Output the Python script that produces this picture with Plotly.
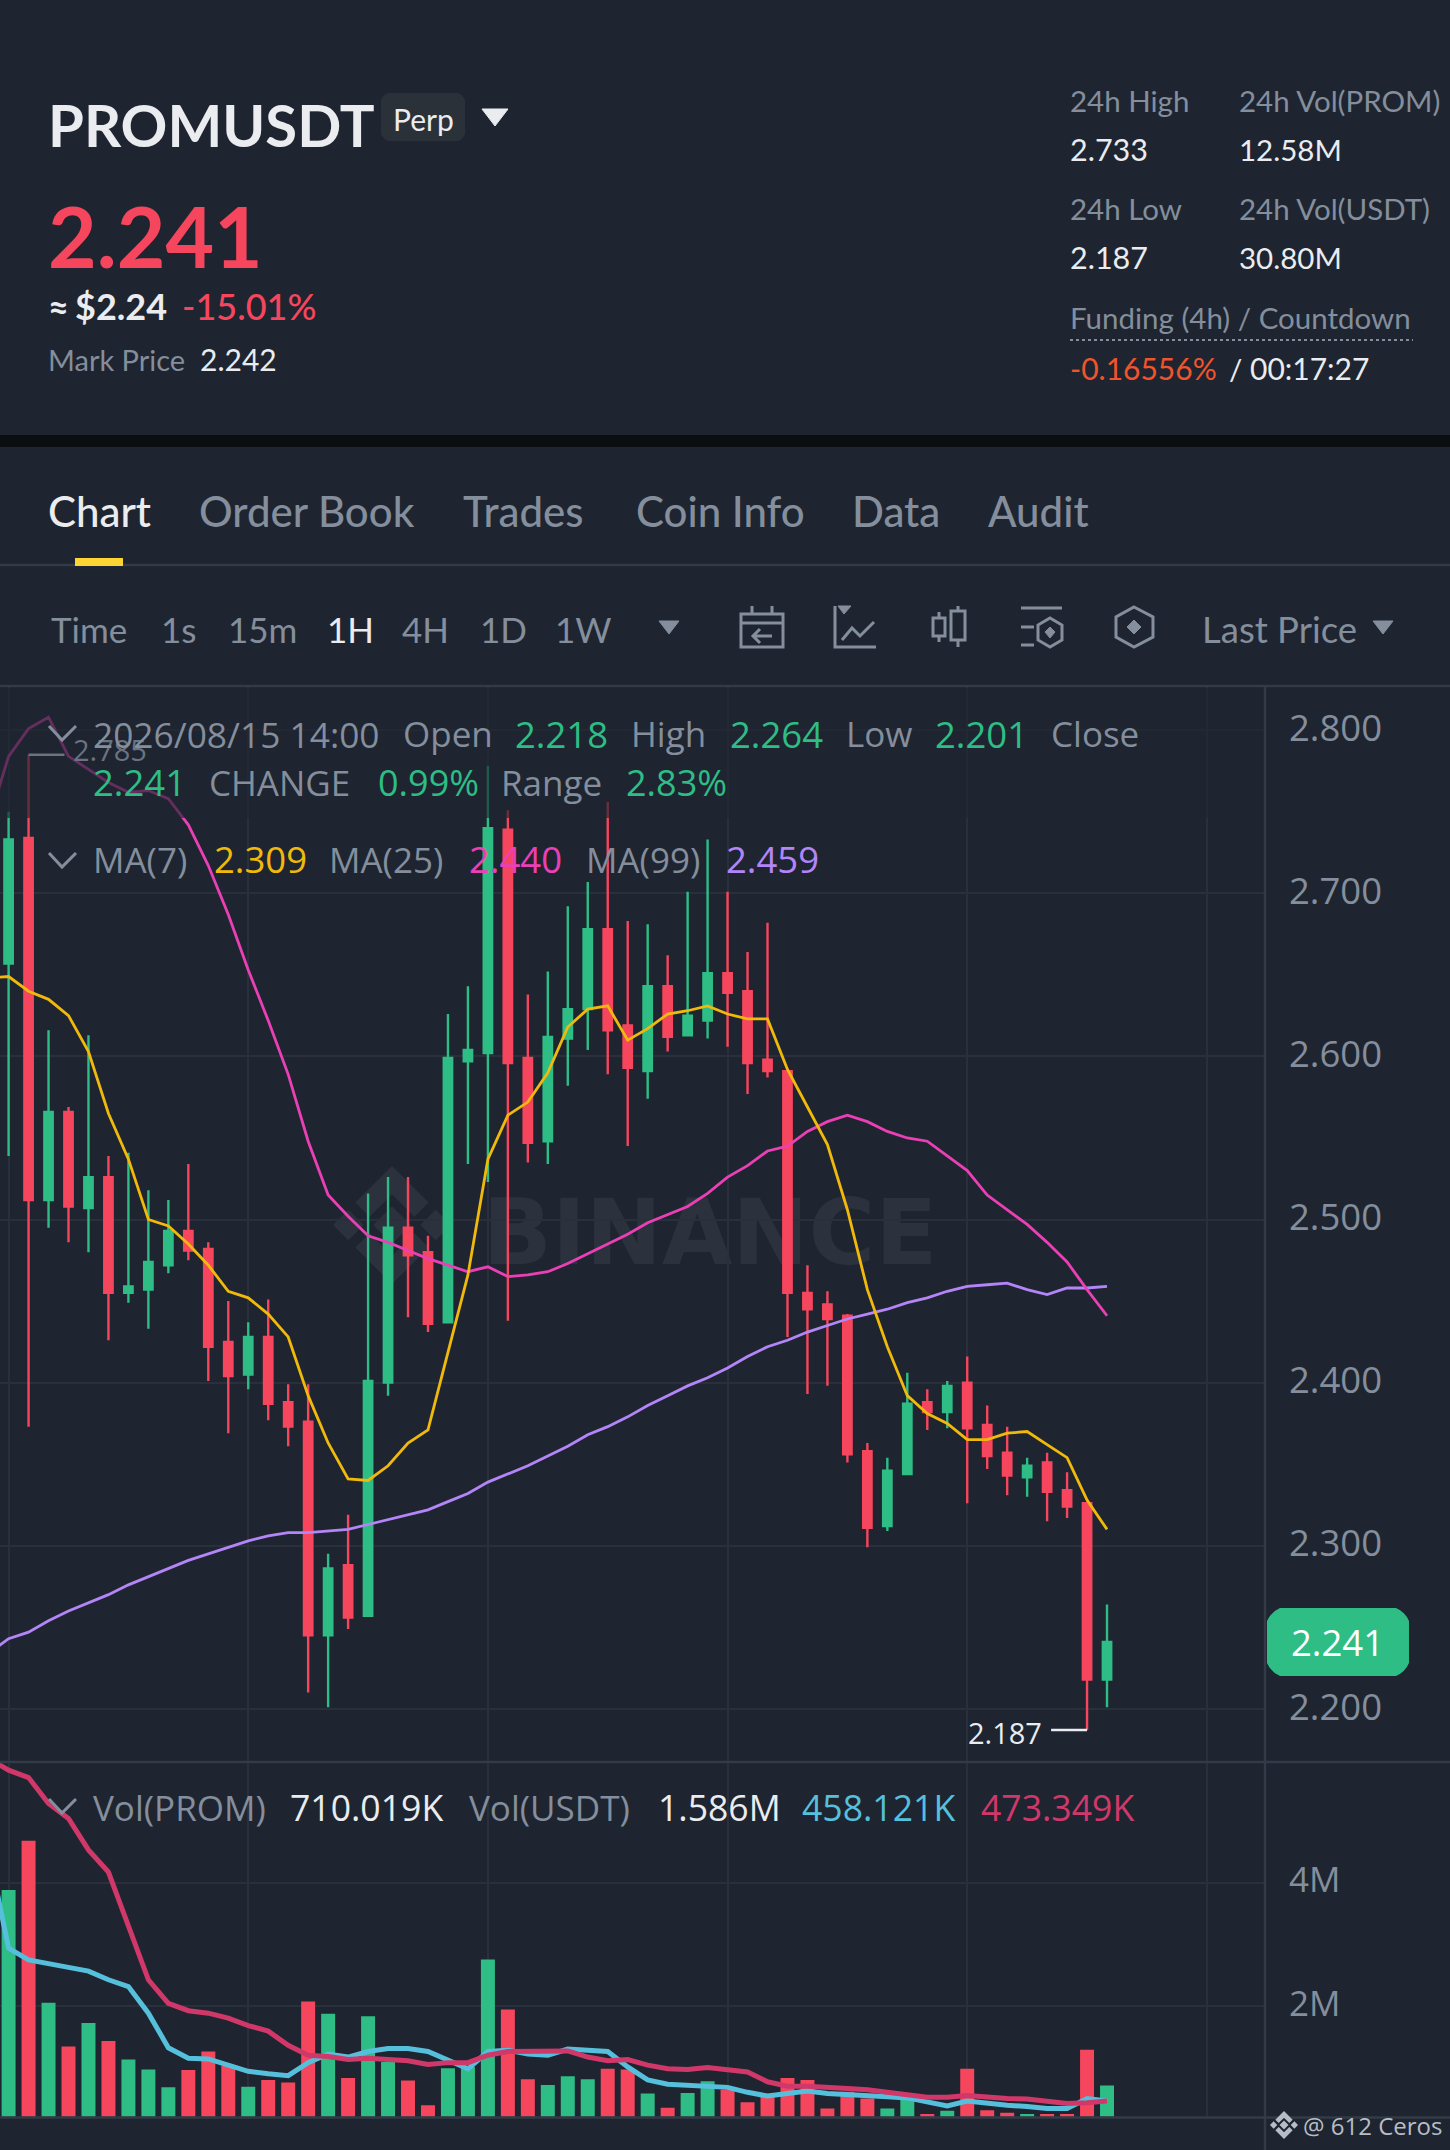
import plotly.graph_objects as go

# ---------- data ----------
candle_open = [2.657,2.734,2.512,2.566,2.507,2.526,2.455,2.457,2.472,2.493,2.482,2.425,2.405,2.428,2.388,2.376,2.245,2.288,2.257,2.400,2.495,2.480,2.437,2.597,2.602,2.739,2.599,2.548,2.611,2.629,2.678,2.619,2.591,2.643,2.613,2.622,2.651,2.640,2.598,2.591,2.455,2.448,2.441,2.358,2.312,2.344,2.388,2.382,2.400,2.374,2.357,2.342,2.351,2.334,2.326,2.218]
candle_high = [2.750,2.785,2.616,2.569,2.613,2.539,2.541,2.518,2.512,2.534,2.486,2.450,2.437,2.451,2.399,2.399,2.295,2.319,2.516,2.526,2.526,2.490,2.626,2.643,2.778,2.751,2.638,2.652,2.692,2.707,2.756,2.683,2.681,2.662,2.701,2.733,2.701,2.664,2.682,2.591,2.472,2.456,2.442,2.363,2.354,2.406,2.396,2.401,2.416,2.386,2.373,2.354,2.357,2.345,2.326,2.264]
candle_low = [2.539,2.373,2.495,2.486,2.480,2.426,2.449,2.433,2.467,2.475,2.401,2.369,2.396,2.377,2.361,2.210,2.201,2.249,2.257,2.392,2.440,2.431,2.437,2.534,2.523,2.438,2.535,2.534,2.582,2.604,2.589,2.545,2.574,2.603,2.613,2.611,2.606,2.577,2.587,2.428,2.393,2.398,2.351,2.299,2.309,2.344,2.371,2.372,2.326,2.347,2.331,2.330,2.315,2.317,2.187,2.201]
candle_close = [2.733,2.512,2.566,2.508,2.526,2.455,2.459,2.474,2.493,2.481,2.422,2.404,2.428,2.387,2.373,2.245,2.286,2.256,2.401,2.495,2.478,2.436,2.599,2.604,2.740,2.596,2.547,2.612,2.629,2.678,2.616,2.593,2.643,2.612,2.625,2.651,2.639,2.596,2.591,2.455,2.445,2.439,2.356,2.311,2.346,2.387,2.382,2.398,2.372,2.355,2.343,2.349,2.333,2.324,2.218,2.241]
volume_m = [3.88,4.68,2.06,1.35,1.73,1.44,1.14,0.98,0.69,0.97,1.27,1.04,0.70,0.81,0.77,2.08,1.88,0.84,1.84,1.10,0.80,0.40,1.00,1.02,2.76,1.95,0.82,0.73,0.87,0.82,0.99,0.98,0.59,0.36,0.60,0.79,0.65,0.45,0.54,0.84,0.81,0.35,0.62,0.51,0.35,0.59,0.26,0.31,0.99,0.32,0.28,0.26,0.26,0.26,1.30,0.72]

# moving averages begin one candle earlier, off the left edge
ma7 = [2.648,2.649,2.640,2.635,2.625,2.603,2.565,2.537,2.500,2.496,2.485,2.472,2.456,2.452,2.442,2.428,2.392,2.363,2.341,2.340,2.349,2.363,2.371,2.419,2.466,2.537,2.564,2.572,2.590,2.618,2.629,2.631,2.610,2.617,2.626,2.628,2.631,2.626,2.623,2.623,2.592,2.569,2.546,2.506,2.457,2.422,2.392,2.381,2.375,2.365,2.365,2.369,2.370,2.362,2.354,2.328,2.310]
ma25 = [2.744,2.784,2.801,2.808,2.784,2.776,2.768,2.762,2.763,2.758,2.742,2.717,2.687,2.653,2.622,2.589,2.548,2.515,2.502,2.490,2.486,2.481,2.476,2.472,2.468,2.471,2.465,2.466,2.468,2.473,2.479,2.485,2.491,2.498,2.503,2.508,2.516,2.526,2.533,2.542,2.545,2.554,2.560,2.564,2.560,2.554,2.550,2.548,2.539,2.530,2.515,2.506,2.497,2.486,2.474,2.457,2.441]
ma99 = [2.234,2.243,2.247,2.254,2.260,2.265,2.270,2.276,2.281,2.286,2.291,2.295,2.299,2.303,2.306,2.308,2.308,2.309,2.310,2.313,2.316,2.319,2.322,2.327,2.332,2.339,2.344,2.349,2.355,2.361,2.368,2.373,2.379,2.386,2.392,2.398,2.403,2.409,2.416,2.422,2.426,2.431,2.435,2.439,2.442,2.445,2.449,2.452,2.456,2.459,2.460,2.461,2.457,2.454,2.458,2.458,2.459]
vol_ma_fast = [4.51,2.94,2.75,2.70,2.63,2.57,2.43,2.32,1.89,1.33,1.16,1.15,1.05,0.95,0.91,0.88,1.09,1.23,1.18,1.27,1.32,1.32,1.27,1.12,0.99,1.27,1.29,1.23,1.21,1.31,1.28,1.27,1.02,0.81,0.74,0.72,0.71,0.69,0.61,0.55,0.59,0.63,0.59,0.58,0.56,0.54,0.52,0.46,0.39,0.47,0.43,0.40,0.38,0.35,0.35,0.51,0.47]
vol_ma_slow = [6.01,5.82,5.70,5.28,5.04,4.53,4.17,3.29,2.43,2.05,1.93,1.89,1.81,1.69,1.60,1.37,1.21,1.19,1.14,1.16,1.14,1.12,1.06,1.09,1.09,1.21,1.27,1.28,1.27,1.28,1.18,1.12,1.14,1.05,0.99,0.98,1.01,0.98,0.94,0.78,0.71,0.71,0.68,0.67,0.65,0.60,0.57,0.53,0.53,0.56,0.53,0.51,0.50,0.46,0.43,0.44,0.47]

price_ticks = [2.2, 2.3, 2.4, 2.5, 2.6, 2.7, 2.8]
volume_ticks = [2, 4]
volume_tick_labels = ["2M", "4M"]
time_ticks = [0, 12, 24, 36, 48, 60]
last_price = 2.241
high_marker = 2.785
low_marker = 2.187

# ---------- styling ----------
W, H = 1450, 2150
BG = "#1E2530"
GRID = "#2A303B"
SEP = "#333B47"
GRAY = "#848E9C"
WHITE = "#EAECEF"
GREEN = "#2EBD85"
RED = "#F6465D"
HEAD = "Lato"
CHART = "Open Sans"

def fx(x): return x / W
def fy(y): return 1 - y / H

candle_x = list(range(len(candle_open)))
ma_x = [i - 1 for i in range(len(ma7))]

fig = go.Figure()
fig.add_trace(go.Candlestick(
    x=candle_x, open=candle_open, high=candle_high, low=candle_low, close=candle_close,
    xaxis="x", yaxis="y", hoverinfo="skip", whiskerwidth=0,
    increasing=dict(line=dict(color=GREEN, width=2.4), fillcolor=GREEN),
    decreasing=dict(line=dict(color=RED, width=2.4), fillcolor=RED),
))
for vals, col in ((ma99, "#B385F8"), (ma25, "#EB40B5"), (ma7, "#F0B90B")):
    fig.add_trace(go.Scatter(x=ma_x, y=vals, mode="lines", line=dict(color=col, width=2.8),
                             xaxis="x", yaxis="y", hoverinfo="skip"))
fig.add_trace(go.Bar(
    x=candle_x, y=volume_m, width=0.7,
    marker=dict(color=[GREEN if c >= o else RED for o, c in zip(candle_open, candle_close)], line=dict(width=0)),
    xaxis="x2", yaxis="y2", hoverinfo="skip",
))
for vals, col in ((vol_ma_fast, "#56BFDB"), (vol_ma_slow, "#D1386A")):
    fig.add_trace(go.Scatter(x=ma_x, y=vals, mode="lines", line=dict(color=col, width=5),
                             xaxis="x2", yaxis="y2", hoverinfo="skip"))

# ---------- annotations and chrome ----------
ann, shp = [], []

def text(x, y, s, color=GRAY, size=29.5, family=HEAD, weight=400, anchor="left"):
    ann.append(dict(x=fx(x), y=fy(y), xref="paper", yref="paper", text=s, showarrow=False,
                    xanchor=anchor, yanchor="middle", borderpad=0, borderwidth=0,
                    font=dict(color=color, size=size, family=family, weight=weight)))

def hline(x0, x1, y, color=SEP, width=2.5, dash=None, layer="above"):
    shp.append(dict(type="line", xref="paper", yref="paper", x0=fx(x0), x1=fx(x1), y0=fy(y), y1=fy(y),
                    layer=layer, line=dict(color=color, width=width, dash=dash or "solid")))

def vline(x, y0, y1, color=SEP, width=2.5):
    shp.append(dict(type="line", xref="paper", yref="paper", x0=fx(x), x1=fx(x), y0=fy(y0), y1=fy(y1),
                    layer="above", line=dict(color=color, width=width)))

def box(x0, y0, x1, y1, fill, layer="above"):
    shp.append(dict(type="rect", xref="paper", yref="paper", x0=fx(x0), x1=fx(x1), y0=fy(y0), y1=fy(y1),
                    layer=layer, fillcolor=fill, line=dict(width=0)))

def path(subpaths, color=GRAY, width=3, fill=None, layer="above"):
    d = ""
    for pts, closed in subpaths:
        d += "M" + " L".join(f"{fx(a):.5f},{fy(b):.5f}" for a, b in pts) + (" Z " if closed else " ")
    shp.append(dict(type="path", xref="paper", yref="paper", path=d, layer=layer,
                    fillcolor=fill or "rgba(0,0,0,0)",
                    line=dict(color=color, width=width)))

def rounded(x0, y0, x1, y1, r, fill):
    k = 0.3 * r
    d = (f"M{fx(x0+r):.5f},{fy(y0):.5f} L{fx(x1-r):.5f},{fy(y0):.5f} "
         f"Q{fx(x1-k):.5f},{fy(y0+k):.5f} {fx(x1):.5f},{fy(y0+r):.5f} L{fx(x1):.5f},{fy(y1-r):.5f} "
         f"Q{fx(x1-k):.5f},{fy(y1-k):.5f} {fx(x1-r):.5f},{fy(y1):.5f} L{fx(x0+r):.5f},{fy(y1):.5f} "
         f"Q{fx(x0+k):.5f},{fy(y1-k):.5f} {fx(x0):.5f},{fy(y1-r):.5f} L{fx(x0):.5f},{fy(y0+r):.5f} "
         f"Q{fx(x0+k):.5f},{fy(y0+k):.5f} {fx(x0+r):.5f},{fy(y0):.5f} Z")
    shp.append(dict(type="path", xref="paper", yref="paper", path=d, layer="above",
                    fillcolor=fill, line=dict(width=0)))

def logo(cx, cy, s, color, layer):
    def poly(pts): return ([(cx + a * s, cy + b * s) for a, b in pts], True)
    def diamond(a, b, r): return poly([(a, b - r), (a + r, b), (a, b + r), (a - r, b)])
    subs = [diamond(0, 0, 0.16), diamond(-0.37, 0, 0.13), diamond(0.37, 0, 0.13),
            poly([(0, -0.5), (0.31, -0.19), (0.19, -0.07), (0, -0.26), (-0.19, -0.07), (-0.31, -0.19)]),
            poly([(0, 0.5), (0.31, 0.19), (0.19, 0.07), (0, 0.26), (-0.19, 0.07), (-0.31, 0.19)])]
    path(subs, color=color, width=0, fill=color, layer=layer)

# header
text(48, 124, "PROMUSDT", WHITE, 58, HEAD, 700)
rounded(381, 93, 465, 141, 7, "#2B3139")
text(393, 119, "Perp", WHITE, 30)
path([([(482, 109), (508, 109), (495, 126)], True)], WHITE, 1, WHITE)
text(48, 235, "2.241", RED, 84, HEAD, 700)
text(48, 306, "≈", WHITE, 36, HEAD, 700)
text(75, 306, "$2.24", WHITE, 36, HEAD, 700)
text(182, 306, "-15.01%", RED, 36, HEAD, 500)
text(48, 359, "Mark Price", GRAY, 29)
text(200, 359, "2.242", WHITE, 30)

text(1070, 101, "24h High"); text(1239, 101, "24h Vol(PROM)")
text(1070, 149, "2.733", WHITE, 30.5); text(1239, 149, "12.58M", WHITE)
text(1070, 209, "24h Low"); text(1239, 209, "24h Vol(USDT)")
text(1070, 257, "2.187", WHITE, 30.5); text(1239, 257, "30.80M", WHITE)
text(1070, 317, "Funding (4h) / Countdown")
hline(1070, 1413, 340, GRAY, 2, "dot")
text(1070, 368, "-0.16556%", "#F0542D", 30)
text(1229, 368, "/", WHITE)
text(1250, 368, "00:17:27", WHITE, 30)

box(0, 435, W, 447, "#0B0E11")

# tabs
tab_labels = ["Chart", "Order Book", "Trades", "Coin Info", "Data", "Audit"]
tab_x = [48, 199, 463, 636, 852, 988]
for i, (lab, xp) in enumerate(zip(tab_labels, tab_x)):
    text(xp, 511, lab, WHITE if i == 0 else GRAY, 42, HEAD, 500)
hline(0, W, 565)
box(75, 558, 123, 566, "#FCD535")

# toolbar
for lab, xp in zip(["Time", "1s", "15m", "1H", "4H", "1D", "1W"],
                   [51, 161, 228, 327, 402, 480, 555]):
    text(xp, 629, lab, WHITE if lab == "1H" else GRAY, 35, HEAD, 400)
text(1202, 629, "Last Price", GRAY, 36.5)
for a, b in ((659, 679), (1373, 1393)):
    path([([(a, 621), (b, 621), ((a + b) / 2, 634)], True)], GRAY, 1, GRAY)
# calendar
path([([(741, 614), (783, 614), (783, 647), (741, 647)], True), ([(741, 623), (783, 623)], False),
      ([(752, 606), (752, 614)], False), ([(772, 606), (772, 614)], False),
      ([(772, 636), (753, 636)], False), ([(760, 629), (753, 636), (760, 643)], False)])
# line tool
path([([(835, 606), (835, 647), (876, 647)], False), ([(842, 640), (852, 628), (860, 636), (874, 622)], False)])
path([([(838, 606), (851, 606), (844, 614)], True)], GRAY, 1, GRAY)
# candles tool
path([([(933, 618), (945, 618), (945, 636), (933, 636)], True), ([(939, 612), (939, 618)], False), ([(939, 636), (939, 642)], False),
      ([(951, 611), (965, 611), (965, 640), (951, 640)], True), ([(958, 606), (958, 611)], False), ([(958, 640), (958, 647)], False)])
# indicator tool
path([([(1021, 608), (1062, 608)], False), ([(1021, 627), (1034, 627)], False), ([(1021, 645), (1034, 645)], False),
      ([(1050, 618), (1062, 625), (1062, 640), (1050, 647), (1038, 640), (1038, 625)], True)])
path([([(1050, 627), (1055, 632), (1050, 638), (1045, 632)], True)], GRAY, 1, GRAY)
# depth tool
path([([(1134, 607), (1153, 617), (1153, 637), (1134, 647), (1116, 637), (1116, 617)], True)])
path([([(1134, 620), (1141, 627), (1134, 634), (1127, 627)], True)], GRAY, 1, GRAY)

hline(0, W, 686)

# watermark lies under the candles
logo(392, 1225, 118, "#2C323D", "below")
shp.append(dict(type="rect", xref="paper", yref="paper", x0=fx(475), x1=fx(945), y0=fy(1190), y1=fy(1260),
                layer="below", line=dict(width=0), fillcolor="rgba(0,0,0,0)",
                label=dict(text="BINANCE", textposition="middle center",
                           font=dict(color="#2C323D", size=91, family="DejaVu Sans", weight=700))))

# legend strip dims what runs behind the first two rows
box(0, 688, 1264, 818, "rgba(30,37,48,0.66)")
box(0, 1782, 1150, 1832, BG, "below")

# marker lines
shp.append(dict(type="line", xref="x", yref="y", x0=1, x1=2.8, y0=high_marker, y1=high_marker,
                layer="above", line=dict(color="#6B7280", width=2.5)))
shp.append(dict(type="line", xref="x", yref="y", x0=52.2, x1=54, y0=low_marker, y1=low_marker,
                layer="above", line=dict(color=WHITE, width=2.5)))
text(73, 750, f"{high_marker:.3f}", "#6B7280", 29, CHART)
text(968, 1732, f"{low_marker:.3f}", WHITE, 29, CHART)

# OHLC legend
L = dict(size=35, family=CHART)
N = dict(size=36.5, family=CHART)
P = dict(size=36, family=CHART)
V = dict(size=35.6, family=CHART)
def chev(y):
    path([([(49, y), (62, y + 14), (76, y)], False)], GRAY, 3)
chev(726); chev(853); chev(1799)
text(93, 734, "2026/08/15 14:00", GRAY, 35.3, CHART)
text(403, 734, "Open", GRAY, **L); text(515, 734, "2.218", GREEN, **N)
text(631, 734, "High", GRAY, **L); text(730, 734, "2.264", GREEN, **N)
text(846, 734, "Low", GRAY, **L); text(935, 734, "2.201", GREEN, **N)
text(1051, 734, "Close", GRAY, **L)
text(93, 782, "2.241", GREEN, **N)
text(209, 782, "CHANGE", GRAY, **L); text(378, 782, "0.99%", GREEN, **P)
text(501, 782, "Range", GRAY, **L); text(626, 782, "2.83%", GREEN, **P)
text(93, 859, "MA(7)", GRAY, **L); text(214, 859, "2.309", "#F0B90B", **N)
text(329, 859, "MA(25)", GRAY, **L); text(469, 859, "2.440", "#EB40B5", **N)
text(586, 859, "MA(99)", GRAY, **L); text(726, 859, "2.459", "#B385F8", **N)
text(93, 1807, "Vol(PROM)", GRAY, 35, CHART); text(290, 1807, "710.019K", WHITE, **V)
text(469, 1807, "Vol(USDT)", GRAY, 35, CHART); text(658, 1807, "1.586M", WHITE, **V)
text(802, 1807, "458.121K", "#56BFDB", **V); text(981, 1807, "473.349K", "#D1386A", **V)

# axis furniture
hline(0, W, 1762)
hline(0, W, 2117.5)
vline(1265, 686, H)

# last price pill
rounded(1267, 1608, 1409, 1676, 13, GREEN)
ann.append(dict(x=fx(1337), y=last_price, xref="paper", yref="y", text=f"{last_price:.3f}", showarrow=False,
                xanchor="center", yanchor="middle", font=dict(color="#FFFFFF", size=36.5, family=CHART)))

# credit
logo(1284, 2125, 28, "#B7BDC6", "above")
text(1303, 2125, "@ 612 Ceros", "#B7BDC6", 24, CHART)

TICKS = dict(color=GRAY, size=36.5, family=CHART)
fig.update_layout(
    width=W, height=H, autosize=False, margin=dict(l=0, r=0, t=0, b=0),
    paper_bgcolor=BG, plot_bgcolor=BG, showlegend=False, boxgap=0.4, bargap=0.3,
    annotations=ann, shapes=shp,
    xaxis=dict(domain=[0, 1265 / W], range=[-0.43, 62.91], anchor="y", tickvals=time_ticks,
               showticklabels=False, showgrid=True, gridcolor=GRID, gridwidth=2, zeroline=False,
               rangeslider=dict(visible=False), fixedrange=True),
    xaxis2=dict(domain=[0, 1265 / W], range=[-0.43, 62.91], anchor="y2", tickvals=time_ticks,
                showticklabels=False, showgrid=True, gridcolor=GRID, gridwidth=2, zeroline=False, fixedrange=True),
    yaxis=dict(domain=[fy(1761), fy(687)], range=[2.168, 2.8265], side="right", anchor="x",
               tickvals=price_ticks, tickformat=".3f", tickfont=TICKS, ticklabelshift=-2,
               ticklabelstandoff=23, showgrid=True, gridcolor=GRID, gridwidth=2, zeroline=False, fixedrange=True),
    yaxis2=dict(domain=[fy(2116.7), fy(1761.7)], range=[0.2156, 5.957], side="right", anchor="x2",
                tickvals=volume_ticks, ticktext=volume_tick_labels, tickfont=dict(color=GRAY, size=35, family=CHART),
                ticklabelshift=-3, ticklabelstandoff=23, showgrid=True, gridcolor=GRID, gridwidth=2, zeroline=False, fixedrange=True),
)

fig.write_html("out.html", config=dict(displayModeBar=False),
               post_script="document.body.style.margin='0';document.body.style.background='%s';" % BG)
